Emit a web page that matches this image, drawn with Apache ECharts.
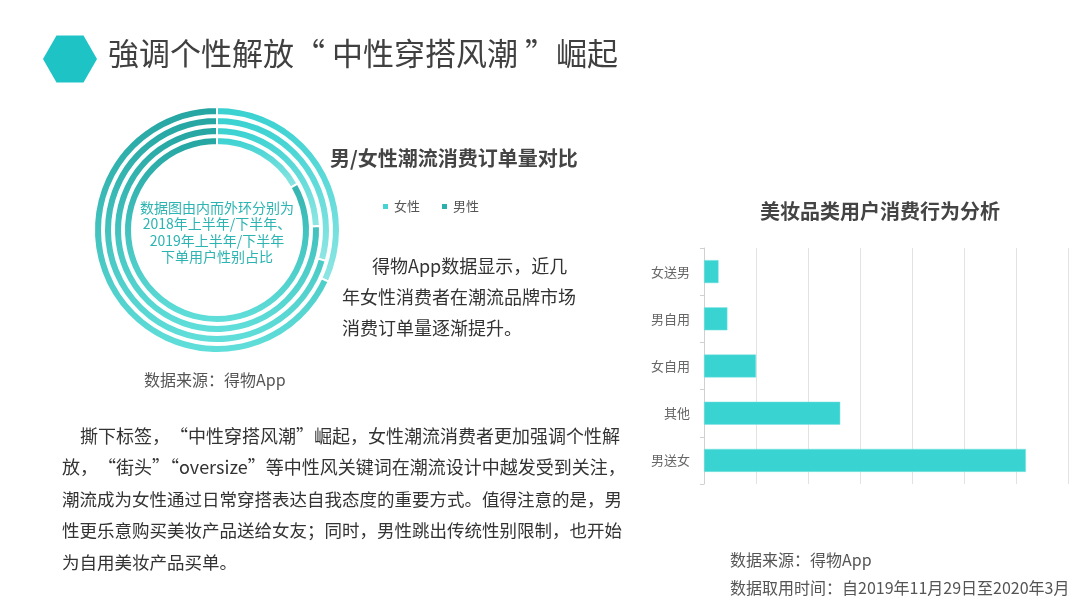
<!DOCTYPE html>
<html>
<head>
  <meta charset="UTF-8">
  <title>強调个性解放“中性穿搭风潮”崛起</title>
  <script src="https://cdn.jsdelivr.net/npm/echarts/dist/echarts.min.js"></script>
  <style>
    html, body { margin: 0; padding: 0; background: #fff; }
    #main { width: 1080px; height: 608px; }
  </style>
</head>
<body>
  <div id="main"></div>

  <script>
    // 环形图：由内而外 2018上/2018下/2019上/2019下
    var ringNames = ['2018年上半年', '2018年下半年', '2019年上半年', '2019年下半年'];
    var femaleShare = [16.7, 24.4, 29.4, 31.9];
    var maleShare = [83.3, 75.6, 70.6, 68.1];

    // 美妆品类用户消费行为
    var behaviorCats = ['女送男', '男自用', '女自用', '其他', '男送女'];
    var behaviorValues = [2.8, 4.5, 10.0, 26.2, 61.9];

    var introLines = ['得物App数据显示，近几', '年女性消费者在潮流品牌市场', '消费订单量逐渐提升。'];
    var bodyLines = [
      '撕下标签，“中性穿搭风潮”崛起，女性潮流消费者更加强调个性解',
      '放，“街头”“oversize”等中性风关键词在潮流设计中越发受到关注，',
      '潮流成为女性通过日常穿搭表达自我态度的重要方式。值得注意的是，男',
      '性更乐意购买美妆产品送给女友；同时，男性跳出传统性别限制，也开始',
      '为自用美妆产品买单。'
    ];

    var FONT = '"Noto Sans CJK SC", "Noto Sans", sans-serif';
    var chart = echarts.init(document.getElementById('main'));

    var femaleColor = new echarts.graphic.LinearGradient(0, 0, 0, 1, [
      { offset: 0, color: '#38d1d1' },
      { offset: 1, color: '#8fe6e3' }
    ]);
    var maleColor = new echarts.graphic.LinearGradient(0, 0, 0, 1, [
      { offset: 0, color: '#25a5a1' },
      { offset: 1, color: '#60dfdb' }
    ]);

    var ringRadii = [[85, 93], [95, 103], [105, 113], [115, 123]];
    var pieSeries = ringNames.map(function (name, i) {
      return {
        name: name,
        type: 'pie',
        center: [217, 230],
        radius: ringRadii[i],
        startAngle: 90,
        clockwise: true,
        silent: true,
        label: { show: false },
        labelLine: { show: false },
        itemStyle: { borderColor: '#fff', borderWidth: 2 },
        data: [
          { name: '女性', value: femaleShare[i], itemStyle: { color: femaleColor } },
          { name: '男性', value: maleShare[i], itemStyle: { color: maleColor } }
        ]
      };
    });

    var graphics = [
      {
        type: 'polygon',
        shape: { points: [[43, 59], [56.5, 35.5], [83.5, 35.5], [97, 59], [83.5, 82.5], [56.5, 82.5]] },
        style: { fill: '#1dc3c5' }
      },
      {
        type: 'text', left: 108, top: 38,
        style: { text: '強调个性解放“ 中性穿搭风潮 ”崛起', font: '31px ' + FONT, fill: '#404040' }
      },
      {
        type: 'text', left: 330, top: 148,
        style: { text: '男/女性潮流消费订单量对比', font: 'bold 20px ' + FONT, fill: '#444' }
      },
      {
        type: 'text', x: 217, y: 232,
        style: {
          text: '数据图由内而外环分别为\n2018年上半年/下半年、\n2019年上半年/下半年\n下单用户性别占比',
          font: '14px ' + FONT, fill: '#2cb4b2', align: 'center', verticalAlign: 'middle', lineHeight: 16.5
        }
      },
      {
        type: 'text', left: 144, top: 372,
        style: { text: '数据来源：得物App', font: '16px ' + FONT, fill: '#555' }
      },
      {
        type: 'text', left: 730, top: 552,
        style: { text: '数据来源：得物App', font: '16px ' + FONT, fill: '#555' }
      },
      {
        type: 'text', left: 730, top: 580,
        style: { text: '数据取用时间：自2019年11月29日至2020年3月', font: '16px ' + FONT, fill: '#555' }
      }
    ];

    var introX = [372, 342, 342];
    introLines.forEach(function (t, i) {
      graphics.push({
        type: 'text', left: introX[i], top: 257 + i * 31,
        style: { text: t, font: '18px ' + FONT, fill: '#333' }
      });
    });

    // 原图两端对齐，这里按行微调字号
    var bodySizes = [18, 18, 17.5, 17.5, 17.5];
    bodyLines.forEach(function (t, i) {
      graphics.push({
        type: 'text', left: i === 0 ? 80 : 62, top: 427 + i * 31.6,
        style: { text: t, font: bodySizes[i] + 'px ' + FONT, fill: '#333' }
      });
    });

    var option = {
      backgroundColor: '#fff',
      animation: false,
      title: {
        text: '美妆品类用户消费行为分析',
        left: 875,
        top: 196,
        textAlign: 'center',
        textStyle: { fontFamily: FONT, fontSize: 20, fontWeight: 'bold', color: '#444' }
      },
      legend: {
        data: [
          { name: '女性', itemStyle: { color: '#45d3d3' } },
          { name: '男性', itemStyle: { color: '#2bb0ad' } }
        ],
        left: 376,
        top: 195,
        icon: 'rect',
        itemWidth: 7,
        itemHeight: 7,
        itemGap: 20,
        selectedMode: false,
        textStyle: { fontFamily: FONT, fontSize: 13, color: '#555' }
      },
      grid: { left: 704, top: 248, width: 364, height: 236 },
      xAxis: {
        type: 'value',
        min: 0,
        max: 70,
        interval: 10,
        axisLine: { show: false },
        axisTick: { show: false },
        axisLabel: { show: false },
        splitLine: { lineStyle: { color: '#e2e2e2', width: 1 } }
      },
      yAxis: {
        type: 'category',
        inverse: true,
        data: behaviorCats,
        axisLine: { lineStyle: { color: '#d0d0d0' } },
        axisTick: { show: true, length: 4, lineStyle: { color: '#d0d0d0' } },
        axisLabel: { color: '#666', fontSize: 13, margin: 14, fontFamily: FONT }
      },
      series: pieSeries.concat([
        {
          name: '美妆品类用户消费行为',
          type: 'bar',
          data: behaviorValues,
          barWidth: 23,
          itemStyle: { color: '#39d4d2', borderColor: '#7ee3e1', borderWidth: 0.5 }
        }
      ]),
      graphic: graphics
    };

    chart.setOption(option);
  </script>
</body>
</html>
